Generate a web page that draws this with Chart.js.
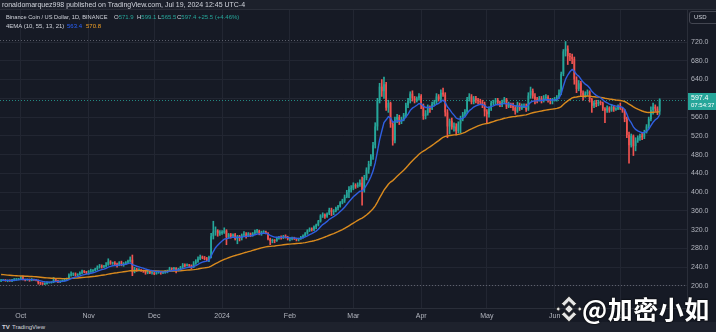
<!DOCTYPE html>
<html>
<head>
<meta charset="utf-8">
<script src="https://cdn.jsdelivr.net/npm/chart.js@4.4.1/dist/chart.umd.min.js"></script>
<style>
html,body{margin:0;padding:0;background:#161a25;}
#wrap{position:relative;width:716px;height:332px;overflow:hidden;background:#161a25;font-family:"Liberation Sans",Arial,sans-serif;}
#c{position:absolute;left:0;top:0;}
#top{position:absolute;left:0;top:0;width:716px;height:10px;background:#1c202b;border-bottom:1px solid #2a2e39;box-sizing:border-box;}
#top span{position:absolute;left:2px;top:0;font-size:7px;line-height:9px;color:#d1d4dc;white-space:nowrap;}
#foot{position:absolute;left:0;top:322px;width:716px;height:10px;background:#1e222d;}
#foot span{position:absolute;top:1px;font-size:6px;line-height:9px;color:#d1d4dc;white-space:nowrap;}
.lg{position:absolute;font-size:6px;line-height:8px;white-space:nowrap;color:#d1d4dc;}
.up{color:#26a69a;}
#usd{position:absolute;left:689px;top:11px;width:30px;height:13px;border:1px solid #434651;border-radius:3px;box-sizing:border-box;font-size:6px;line-height:11px;color:#d1d4dc;padding-left:4px;}
#wm{position:absolute;left:582px;top:294px;font-family:"Noto Sans CJK SC",sans-serif;font-weight:700;font-size:25px;line-height:28px;color:#fff;white-space:nowrap;letter-spacing:0.5px;text-shadow:0 0 2px #000,0 0 1px #000;}
#logo{position:absolute;left:554px;top:294px;}
</style>
</head>
<body>
<div id="wrap">
  <canvas id="c" width="716" height="332"></canvas>
  <div id="top"><span>ronaldomarquez998 published on TradingView.com, Jul 19, 2024 12:45 UTC-4</span></div>
  <div class="lg" style="left:6px;top:13px;font-size:5.7px;">Binance Coin / US Dollar, 1D, BINANCE</div>
  <div class="lg" style="left:114px;top:13px;">O<span class="up">571.9</span></div>
  <div class="lg" style="left:137px;top:13px;">H<span class="up">599.1</span></div>
  <div class="lg" style="left:158px;top:13px;">L<span class="up">565.5</span></div>
  <div class="lg" style="left:177px;top:13px;">C<span class="up">597.4</span></div>
  <div class="lg up" style="left:198px;top:13px;">+25.5 (+4.46%)</div>
  <div class="lg" style="left:6px;top:22px;">4EMA (10, 55, 13, 21)</div>
  <div class="lg" style="left:67px;top:22px;color:#2962ff;">563.4</div>
  <div class="lg" style="left:86px;top:22px;color:#f0a026;">570.8</div>
  <div id="usd">USD</div>
  <div id="foot"><span style="left:2px;font-weight:700;">TV</span><span style="left:12px;">TradingView</span></div>
  <svg id="logo" width="30" height="30" viewBox="0 0 28 28">
    <g fill="#e6e6e6" stroke="#222" stroke-width="0.8">
      <polygon points="14,10 18,14 14,18 10,14"/>
      <polygon points="4,12 6,14 4,16 2,14"/>
      <polygon points="24,12 26,14 24,16 22,14"/>
      <polygon points="14,2 21,9 18.5,11.5 14,7 9.5,11.5 7,9"/>
      <polygon points="14,26 21,19 18.5,16.5 14,21 9.5,16.5 7,19"/>
    </g>
  </svg>
  <div id="wm">@加密小如</div>
</div>
<script>
// daily BNB/USD candles, 2023-09-22 .. 2024-07-19
const startDate = '2023-09-22';
const totalSlots = 314; // days on the time axis incl. empty space on the right
const monthNames = ['2024','Feb','Mar','Apr','May','Jun','Jul','Aug','Sep','Oct','Nov','Dec'];

const opens = [
  211,212,213,211,212,211,212,214,214, // sep
  215,218,214,213,214,212,214,213,212,207,206,205,205,207,207,208,214,211,209,210,211,214,216,223,225,226,224,225,228,231,230, // oct
  229,230,232,233,236,240,242,241,242,245,252,248,249,247,244,250,246,248,250,253,256,230,236,234,234,233,232,228,230,228, // nov
  228,226,229,230,228,229,230,232,237,236,238,234,236,240,245,243,245,244,240,248,252,258,262,260,258,256,262,306,316,318,312, // dec
  313,314,318,304,310,306,310,300,306,302,308,310,306,312,307,312,316,318,312,315,316,313,300,296,298,296,302,304,303,306,304, // jan
  300,300,302,301,299,300,304,307,312,318,322,320,326,330,338,350,352,348,354,362,358,360,366,370,378,382,390,400,406, // feb
  408,415,412,416,420,404,430,448,460,476,500,540,595,625,615,630,580,590,545,510,555,560,550,555,565,585,595,610,600,595,600, // mar
  605,585,562,568,582,578,588,592,604,598,612,608,570,540,552,538,540,530,546,556,566,572,598,604,592,600,596,594,592,588, // apr
  572,566,578,590,592,596,590,586,592,598,582,588,584,580,572,586,578,582,584,576,606,616,604,598,596,600,594,600,602,596,594, // may
  596,598,602,612,652,700,706,690,688,684,640,620,632,612,606,610,614,598,584,590,588,592,590,578,574,580,574,582,576,578, // jun
  582,578,574,556,522,500,520,498,510,516,520,518,528,540,556,575,582,578,571.9 // jul
];
const highs = [
  214,214,214,213,213,214,216,216,216,
  220,221,215,215,215,216,215,214,213,208,207,207,209,208,209,218,215,212,211,213,215,217,226,230,228,228,226,230,234,233,231,
  233,236,235,238,243,246,245,244,250,258,254,251,252,249,252,253,250,252,255,262,266,240,238,237,235,234,233,232,231,230,
  229,230,232,231,231,233,234,240,239,240,239,238,242,248,247,247,246,245,252,256,262,266,264,263,261,264,312,338,326,320,318,
  318,324,320,312,312,311,312,308,308,311,316,314,314,313,314,319,321,319,317,318,317,314,302,300,299,304,306,307,308,309,306,
  303,304,304,302,302,306,309,314,320,324,324,328,332,340,352,356,354,356,366,366,363,368,372,380,385,394,404,412,414,
  420,418,420,426,432,436,452,466,480,506,548,600,632,640,645,634,596,592,550,560,566,564,560,568,590,600,614,616,604,603,610,
  608,588,574,586,584,592,596,610,608,618,622,612,576,556,558,548,546,550,562,570,576,602,610,608,604,604,600,598,596,592,
  576,582,594,596,600,600,594,596,602,600,592,590,590,584,592,590,588,588,588,612,624,620,610,602,604,604,606,608,606,600,600,
  602,606,618,656,704,721,712,696,694,688,646,638,636,616,614,618,616,600,594,596,596,594,592,580,584,582,586,584,580,586,
  590,580,576,560,528,524,522,516,520,524,526,532,544,560,582,590,586,582,599.1
];
const lows = [
  209,211,210,209,210,209,211,212,213,
  214,213,211,212,210,211,212,211,204,203,203,203,204,206,206,207,209,207,207,209,210,212,214,221,222,221,222,224,226,228,226,
  225,229,229,232,234,238,238,239,240,244,246,246,244,240,243,243,242,246,248,251,222,228,231,232,231,229,225,226,226,225,
  224,225,227,225,226,227,228,231,234,235,228,232,233,238,240,242,241,237,239,246,250,256,258,256,254,252,260,300,308,306,308,
  310,312,288,302,302,303,298,290,296,298,306,302,305,305,306,310,313,309,308,313,311,298,288,292,292,295,300,300,301,302,298,
  296,298,299,296,296,299,302,305,310,316,317,318,322,328,336,346,344,346,352,350,352,358,362,368,375,378,388,388,400,
  405,408,410,412,372,400,426,440,456,470,494,532,590,604,600,574,570,538,500,505,548,544,546,552,560,580,590,594,590,592,596,
  578,555,556,564,570,576,584,588,594,592,604,562,516,524,534,530,522,526,526,552,562,568,594,588,588,590,588,588,580,562,
  548,560,574,586,588,586,582,582,588,578,580,580,574,566,570,574,576,580,572,574,600,600,588,590,594,590,592,596,592,588,588,
  594,594,600,608,648,690,672,680,674,630,612,616,604,596,602,606,592,570,580,582,584,586,574,548,570,570,572,572,574,576,
  576,570,550,516,462,496,478,488,506,510,512,514,526,536,552,566,572,565,565.5
];
const closes = [
  212,213,211,212,211,212,214,214,215,
  218,214,213,214,212,214,213,212,207,206,205,205,207,207,208,214,211,209,210,211,214,216,223,225,226,224,225,228,231,230,229,
  230,232,233,236,240,242,241,242,245,252,248,249,247,244,250,246,248,250,253,256,230,236,234,234,233,232,228,230,228,228,
  226,229,230,228,229,230,232,237,236,238,234,236,240,245,243,245,244,240,248,252,258,262,260,258,256,262,306,316,318,312,313,
  314,318,304,310,306,310,300,306,302,308,310,306,312,307,312,316,318,312,315,316,313,300,296,298,296,302,304,303,306,304,300,
  300,302,301,299,300,304,307,312,318,322,320,326,330,338,350,352,348,354,362,358,360,366,370,378,382,390,400,406,408,
  415,412,416,420,404,430,448,460,476,500,540,595,625,615,630,580,590,545,510,555,560,550,555,565,585,595,610,600,595,600,605,
  585,562,568,582,578,588,592,604,598,612,608,570,540,552,538,540,530,546,556,566,572,598,604,592,600,596,594,592,588,572,
  566,578,590,592,596,590,586,592,598,582,588,584,580,572,586,578,582,584,576,606,616,604,598,596,600,594,600,602,596,594,596,
  598,602,612,652,700,706,690,688,684,640,620,632,612,606,610,614,598,584,590,588,592,590,578,574,580,574,582,576,578,582,
  578,574,556,522,500,520,498,510,516,520,518,528,540,556,575,582,578,571.9,597.4
];

const ema10Seed = 212;
const ema55Seed = 225;

const yTicks = [200,240,280,320,360,400,440,480,520,560,600,640,680,720];
const highLine = 725, lowLine = 203;
const countdown = '07:54:37';

const upColor = '#26a69a', downColor = '#ef5350';

function ema(src, len, seed){
  const k = 2/(len+1); let e = seed;
  return src.map(v => { e = e + k*(v-e); return +e.toFixed(2); });
}

var labels = [];
var d0 = new Date(startDate + 'T00:00:00Z');
for (var i = 0; i < totalSlots; i++) {
  var d = new Date(d0.getTime() + i*86400000);
  labels.push(d.toISOString().slice(0,10));
}
function tickText(idx){
  var d = new Date(labels[idx] + 'T00:00:00Z');
  if (d.getUTCDate() !== 1) return null;
  return d.getUTCMonth() === 0 ? String(d.getUTCFullYear()) : monthNames[d.getUTCMonth()];
}

var colors = closes.map((c,i) => c >= opens[i] ? upColor : downColor);
var lastClose = closes[closes.length-1];

var decor = {
  id: 'decor',
  beforeDraw(chart){
    var ctx = chart.ctx;
    ctx.save(); ctx.fillStyle = '#161a25'; ctx.fillRect(0,0,chart.width,chart.height); ctx.restore();
  },
  beforeDatasetsDraw(chart){
    var ctx = chart.ctx, a = chart.chartArea, y = chart.scales.y;
    ctx.save();
    ctx.lineWidth = 1;
    ctx.setLineDash([1,2]);
    [[highLine,'rgba(120,123,134,0.7)'],[lowLine,'rgba(120,123,134,0.7)'],[lastClose,'rgba(38,166,154,0.8)']].forEach(function(p){
      var yy = Math.round(y.getPixelForValue(p[0])) + 0.5;
      ctx.strokeStyle = p[1];
      ctx.beginPath(); ctx.moveTo(a.left, yy); ctx.lineTo(a.right, yy); ctx.stroke();
    });
    ctx.restore();
  },
  afterDraw(chart){
    var ctx = chart.ctx, a = chart.chartArea, y = chart.scales.y;
    var yp = Math.round(y.getPixelForValue(lastClose));
    ctx.save();
    ctx.fillStyle = upColor;
    ctx.fillRect(a.right+1, yp-7, chart.width-a.right-1, 17);
    ctx.fillStyle = '#ffffff';
    ctx.textBaseline = 'middle';
    ctx.font = '7px "Liberation Sans", Arial';
    ctx.fillText(lastClose.toFixed(1), a.right+4, yp-2);
    ctx.font = '6px "Liberation Sans", Arial';
    ctx.fillText(countdown, a.right+4, yp+5);
    ctx.restore();
  }
};

var ctx = document.getElementById('c');
var chart = new Chart(ctx, {
  type: 'bar',
  data: {
    labels: labels,
    datasets: [
      { type:'line', label:'EMA 10', data: ema(closes,10,ema10Seed), borderColor:'#2f5fe0', borderWidth:1.4, pointRadius:0, tension:0, order:0 },
      { type:'line', label:'EMA 55', data: ema(closes,55,ema55Seed), borderColor:'#d98a1e', borderWidth:1.4, pointRadius:0, tension:0, order:0 },
      { label:'body', data: opens.map((o,i) => [o, closes[i]]), backgroundColor: colors, grouped:false,
        categoryPercentage:1, barPercentage:0.75, minBarLength:1, borderWidth:0, order:1 },
      { label:'wick', data: lows.map((l,i) => [l, highs[i]]), backgroundColor: colors, grouped:false,
        barThickness:1, borderWidth:0, order:2 }
    ]
  },
  options: {
    responsive:false,
    animation:false,
    layout:{ padding:{ top:10, bottom:10, left:0, right:0 } },
    plugins:{ legend:{display:false}, tooltip:{enabled:false} },
    scales:{
      x:{
        offset:true,
        grid:{ color:'#222632', offset:false, drawTicks:false },
        border:{ color:'#2a2e39' },
        afterBuildTicks: s => { s.ticks = s.ticks.filter(t => tickText(t.value) !== null); },
        afterFit: s => { s.height = 14; },
        ticks:{ autoSkip:false, maxRotation:0, padding:4, color:'#b2b5be',
          font:{ size:7, family:'"Liberation Sans", Arial' },
          callback: v => tickText(v) }
      },
      y:{
        position:'right',
        min:153.1, max:788.2,
        grid:{ color:'#222632', drawTicks:false },
        border:{ color:'#2a2e39' },
        afterBuildTicks: s => { s.ticks = yTicks.map(v => ({ value:v })); },
        afterFit: s => { s.width = 29; },
        ticks:{ padding:4, color:'#b2b5be', font:{ size:7, family:'"Liberation Sans", Arial' },
          callback: v => v === 600 ? '' : Number(v).toFixed(1) }
      }
    }
  },
  plugins:[decor]
});
</script>
</body>
</html>
